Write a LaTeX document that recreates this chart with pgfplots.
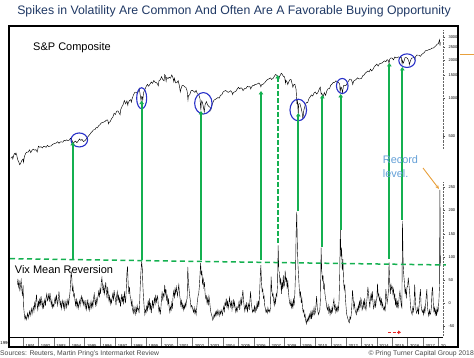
\documentclass[border=0pt]{standalone}
\usepackage{pgfplots}
\pgfplotsset{compat=1.18}
\usepackage{fontspec}
\setmainfont{Liberation Sans}
\usetikzlibrary{arrows.meta}
\definecolor{titleblue}{RGB}{31,56,100}
\definecolor{arrgreen}{RGB}{20,176,80}
\definecolor{circblue}{RGB}{40,48,200}
\definecolor{reclabel}{RGB}{100,160,215}
\definecolor{orangearr}{RGB}{232,160,60}
\definecolor{redarr}{RGB}{230,40,40}
\definecolor{srcgray}{RGB}{70,70,70}
\begin{document}
\begin{tikzpicture}
\useasboundingbox (0pt,0pt) rectangle (474pt,357pt);
% ---------------- upper panel: S&P Composite (log scale)
\begin{axis}[at={(10pt,191.9pt)}, anchor=south west, scale only axis,
  width=433pt, height=137.1pt,
  xmin=1990.15, xmax=2018.3, ymode=log, ymin=296, ymax=3556,
  axis x line=none, axis y line*=right, y axis line style={draw=none},
  ytick={500,1000,1500,2000,2500,3000},
  yticklabels={500,1000,1500,2000,2500,3000},
  yminorticks=false,
  tick align=outside, major tick length=2pt,
  ytick style={black!70, line width=0.3pt},
  yticklabel style={font=\fontsize{4}{4.5}\selectfont, anchor=west, xshift=0pt},
  clip=false]
\addplot[black, line width=0.45pt] coordinates {
(1990.20,335) (1990.25,339) (1990.30,345) (1990.333,331) (1990.40,355) (1990.417,361) (1990.46,366) (1990.5,358) (1990.54,368) (1990.583,356) (1990.63,335) (1990.667,323) (1990.71,315) (1990.75,306) (1990.78,298) (1990.833,304) (1990.87,312) (1990.917,322) (1990.96,326) (1991.0,330)
(1991.03,312) (1991.083,344) (1991.167,367) (1991.25,375) (1991.333,375) (1991.417,390) (1991.5,371) (1991.583,388) (1991.667,395) (1991.75,388) (1991.833,392) (1991.917,375) (1992.0,417)
(1992.083,409) (1992.167,413) (1992.25,404) (1992.333,415) (1992.417,415) (1992.5,408) (1992.583,424) (1992.667,414) (1992.75,418) (1992.833,419) (1992.917,431) (1993.0,436)
(1993.083,439) (1993.167,443) (1993.25,452) (1993.333,440) (1993.417,450) (1993.5,451) (1993.583,448) (1993.667,464) (1993.75,459) (1993.833,468) (1993.917,462) (1994.0,466)
(1994.083,482) (1994.167,467) (1994.25,446) (1994.29,438) (1994.333,451) (1994.417,457) (1994.5,444) (1994.583,458) (1994.667,475) (1994.75,463) (1994.833,472) (1994.917,454) (1995.0,459)
(1995.083,470) (1995.167,487) (1995.25,501) (1995.333,515) (1995.417,533) (1995.5,545) (1995.583,562) (1995.667,562) (1995.75,584) (1995.833,582) (1995.917,605) (1996.0,616)
(1996.083,636) (1996.167,640) (1996.25,646) (1996.333,654) (1996.417,669) (1996.5,671) (1996.56,626) (1996.583,640) (1996.667,652) (1996.75,687) (1996.833,705) (1996.917,757) (1997.0,741)
(1997.083,786) (1997.167,791) (1997.25,757) (1997.31,737) (1997.333,801) (1997.417,848) (1997.5,885) (1997.583,954) (1997.667,899) (1997.75,947) (1997.81,876) (1997.833,915) (1997.917,955) (1998.0,970)
(1998.04,927) (1998.083,980) (1998.167,1049) (1998.25,1102) (1998.333,1112) (1998.417,1091) (1998.5,1134) (1998.55,1187) (1998.583,1121) (1998.667,957) (1998.71,1025) (1998.75,1017) (1998.78,960) (1998.833,1099) (1998.917,1164) (1999.0,1229)
(1999.083,1280) (1999.167,1238) (1999.25,1286) (1999.333,1335) (1999.417,1302) (1999.5,1373) (1999.583,1329) (1999.667,1320) (1999.75,1283) (1999.79,1247) (1999.833,1363) (1999.917,1389) (2000.0,1469)
(2000.083,1394) (2000.167,1366) (2000.2,1527) (2000.25,1499) (2000.3,1356) (2000.333,1452) (2000.417,1421) (2000.5,1455) (2000.583,1431) (2000.667,1518) (2000.75,1437) (2000.8,1342) (2000.833,1429) (2000.917,1315) (2001.0,1320)
(2001.083,1366) (2001.167,1240) (2001.22,1117) (2001.25,1160) (2001.333,1249) (2001.417,1256) (2001.5,1224) (2001.583,1211) (2001.667,1134) (2001.72,966) (2001.75,1041) (2001.833,1060) (2001.917,1139) (2002.0,1148)
(2002.083,1130) (2002.167,1107) (2002.25,1147) (2002.333,1076) (2002.417,1067) (2002.5,990) (2002.56,797) (2002.583,912) (2002.62,950) (2002.667,916) (2002.75,815) (2002.78,777) (2002.833,886) (2002.917,936) (2003.0,880)
(2003.083,856) (2003.167,841) (2003.2,800) (2003.25,848) (2003.333,917) (2003.417,964) (2003.5,975) (2003.583,990) (2003.667,1008) (2003.75,996) (2003.833,1051) (2003.917,1058) (2004.0,1112)
(2004.083,1131) (2004.167,1145) (2004.25,1126) (2004.333,1107) (2004.417,1121) (2004.5,1141) (2004.583,1102) (2004.62,1064) (2004.667,1104) (2004.75,1115) (2004.833,1130) (2004.917,1174) (2005.0,1212)
(2005.083,1181) (2005.167,1204) (2005.25,1181) (2005.3,1142) (2005.333,1157) (2005.417,1192) (2005.5,1191) (2005.583,1234) (2005.667,1220) (2005.75,1229) (2005.8,1177) (2005.833,1207) (2005.917,1249) (2006.0,1248)
(2006.083,1280) (2006.167,1281) (2006.25,1295) (2006.333,1311) (2006.417,1270) (2006.46,1224) (2006.5,1270) (2006.583,1277) (2006.667,1304) (2006.75,1336) (2006.833,1378) (2006.917,1401) (2007.0,1418)
(2007.083,1438) (2007.16,1399) (2007.167,1407) (2007.25,1421) (2007.333,1482) (2007.417,1531) (2007.5,1503) (2007.583,1455) (2007.62,1406) (2007.667,1474) (2007.75,1527) (2007.78,1565) (2007.833,1549) (2007.917,1481) (2008.0,1468)
(2008.06,1310) (2008.083,1378) (2008.167,1331) (2008.21,1276) (2008.25,1323) (2008.333,1386) (2008.417,1400) (2008.5,1280) (2008.54,1214) (2008.583,1267) (2008.667,1283) (2008.75,1165) (2008.78,1000) (2008.8,899) (2008.833,969) (2008.89,752) (2008.917,896) (2009.0,903)
(2009.083,826) (2009.167,735) (2009.19,677) (2009.25,798) (2009.333,873) (2009.417,919) (2009.5,919) (2009.583,987) (2009.667,1021) (2009.75,1057) (2009.833,1036) (2009.917,1096) (2010.0,1115)
(2010.083,1074) (2010.167,1104) (2010.25,1169) (2010.32,1217) (2010.333,1187) (2010.38,1072) (2010.417,1089) (2010.5,1031) (2010.51,1022) (2010.583,1102) (2010.667,1049) (2010.75,1141) (2010.833,1183) (2010.917,1181) (2011.0,1258)
(2011.083,1286) (2011.167,1327) (2011.25,1326) (2011.333,1364) (2011.417,1345) (2011.5,1321) (2011.583,1292) (2011.61,1120) (2011.667,1219) (2011.7,1204) (2011.75,1131) (2011.76,1099) (2011.833,1253) (2011.917,1247) (2012.0,1258)
(2012.083,1312) (2012.167,1366) (2012.25,1408) (2012.333,1398) (2012.417,1310) (2012.43,1278) (2012.5,1362) (2012.583,1379) (2012.667,1407) (2012.75,1441) (2012.833,1412) (2012.917,1416) (2013.0,1426)
(2013.083,1498) (2013.167,1515) (2013.25,1569) (2013.333,1598) (2013.417,1631) (2013.5,1606) (2013.583,1686) (2013.667,1633) (2013.75,1682) (2013.833,1757) (2013.917,1806) (2014.0,1848)
(2014.083,1783) (2014.167,1859) (2014.25,1872) (2014.333,1884) (2014.417,1924) (2014.5,1960) (2014.583,1931) (2014.667,2003) (2014.75,1972) (2014.79,1862) (2014.833,2018) (2014.917,2068) (2015.0,2059)
(2015.083,1995) (2015.167,2105) (2015.25,2068) (2015.333,2086) (2015.417,2107) (2015.5,2063) (2015.583,2104) (2015.64,1867) (2015.667,1972) (2015.72,1882) (2015.75,1920) (2015.833,2079) (2015.917,2080) (2016.0,2044)
(2016.083,1940) (2016.11,1829) (2016.167,1932) (2016.25,2060) (2016.333,2065) (2016.417,2097) (2016.48,2001) (2016.5,2099) (2016.583,2174) (2016.667,2171) (2016.75,2168) (2016.833,2126) (2016.917,2199) (2017.0,2239)
(2017.083,2279) (2017.167,2364) (2017.25,2363) (2017.333,2384) (2017.417,2412) (2017.5,2423) (2017.583,2470) (2017.667,2472) (2017.75,2519) (2017.833,2575) (2017.917,2648) (2018.0,2674)
(2018.04,2786) (2018.07,2873) (2018.09,2762) (2018.105,2581) (2018.12,2700) (2018.13,2732)
};
\draw[black!60, densely dotted, line width=0.4pt] (axis cs:2018.3,400) -- (axis cs:2018.3,3400);
% highlight ellipses
\draw[circblue, line width=1.1pt] (axis cs:1994.655,467) ellipse [x radius=8.3pt, y radius=7pt];
\draw[circblue, line width=1.1pt] (axis cs:1998.71,995) ellipse [x radius=5pt, y radius=10.5pt];
\draw[circblue, line width=1.1pt] (axis cs:2002.72,908) ellipse [x radius=8.7pt, y radius=10.7pt];
\draw[circblue, line width=1.1pt] (axis cs:2008.89,804) ellipse [x radius=8.3pt, y radius=10.8pt];
\draw[circblue, line width=1.1pt] (axis cs:2011.75,1243) ellipse [x radius=5.8pt, y radius=7.5pt];
\draw[circblue, line width=1.1pt] (axis cs:2015.96,1967) ellipse [x radius=8.2pt, y radius=6.8pt];
% arrow tips
\coordinate (u1) at (axis cs:1994.226,451);
\coordinate (u2) at (axis cs:1998.71,952);
\coordinate (u3) at (axis cs:2002.567,790);
\coordinate (u4) at (axis cs:2006.468,1135);
\coordinate (u5) at (axis cs:2007.553,1517);
\coordinate (u6) at (axis cs:2008.893,762);
\coordinate (u7) at (axis cs:2010.453,1056);
\coordinate (u8) at (axis cs:2011.649,1075);
\coordinate (u9) at (axis cs:2014.809,1887);
\coordinate (u10) at (axis cs:2015.654,1754);
\end{axis}
% ---------------- lower panel: Vix Mean Reversion
\begin{axis}[at={(10pt,19.3pt)}, anchor=south west, scale only axis,
  width=433pt, height=167.7pt,
  xmin=1990.15, xmax=2018.3, ymin=-75.1, ymax=287.9,
  axis x line*=bottom, axis y line*=right,
  x axis line style={-, black, line width=0.6pt},
  y axis line style={draw=none},
  xtick={1991,1992,1993,1994,1995,1996,1997,1998,1999,2000,2001,2002,2003,2004,2005,2006,2007,2008,2009,2010,2011,2012,2013,2014,2015,2016,2017,2018},
  xticklabels={1991,1992,1993,1994,1995,1996,1997,1998,1999,2000,2001,2002,2003,2004,2005,2006,2007,2008,2009,2010,2011,2012,2013,2014,2015,2016,2017,20},
  xtick style={draw=none},
  xticklabel style={font=\fontsize{4.2}{4.5}\selectfont, anchor=north west, xshift=-1pt, yshift=-1pt},
  ytick={-50,0,50,100,150,200,250},
  yticklabels={-50,0,50,100,150,200,250},
  tick align=outside, major tick length=2pt,
  ytick style={black!70, line width=0.3pt},
  yticklabel style={font=\fontsize{4}{4.5}\selectfont, anchor=west, xshift=0pt},
  clip=false]
\addplot[black, line width=0.4pt] table[row sep=\\, x expr=1990.625+\coordindex/24, y=v] {
v\\
40\\52\\35\\45\\25\\40\\50\\30\\15\\
38\\-10\\-25\\-35\\-28\\-36\\-30\\-22\\-33\\-25\\-18\\-28\\-20\\-12\\-24\\-15\\-8\\-18\\0\\-10\\5\\18\\-5\\-15\\
5\\-8\\10\\-5\\15\\2\\-10\\5\\-12\\0\\8\\-6\\12\\20\\5\\10\\18\\3\\22\\8\\-5\\6\\-10\\-3\\
-8\\4\\12\\-2\\18\\6\\-5\\10\\25\\8\\-6\\3\\-12\\0\\6\\-9\\2\\-14\\-4\\5\\-10\\0\\8\\-5\\
10\\20\\40\\70\\55\\25\\35\\15\\20\\5\\-5\\10\\-8\\2\\-12\\-3\\5\\-6\\8\\15\\2\\10\\-4\\5\\
0\\-10\\6\\-14\\-4\\8\\-12\\-2\\-16\\-6\\4\\-10\\2\\-8\\10\\20\\5\\-5\\12\\-3\\8\\15\\25\\12\\
30\\20\\45\\55\\35\\25\\40\\20\\30\\45\\25\\10\\35\\18\\5\\15\\-2\\8\\0\\12\\20\\5\\28\\15\\
10\\-5\\15\\25\\5\\18\\0\\12\\-8\\5\\20\\2\\15\\-3\\25\\10\\0\\30\\65\\79\\40\\20\\35\\15\\
10\\-5\\5\\-15\\-22\\-8\\-18\\-25\\-10\\-20\\-5\\-15\\-12\\-22\\5\\45\\70\\90\\75\\35\\10\\-10\\-25\\-15\\
-20\\-5\\-18\\5\\-10\\10\\-15\\0\\-22\\-8\\6\\-12\\0\\12\\-5\\18\\2\\10\\15\\-5\\-18\\-10\\-25\\-12\\
10\\25\\5\\20\\15\\39\\20\\30\\5\\15\\-5\\10\\-10\\-20\\-8\\-15\\0\\-12\\15\\25\\10\\30\\20\\35\\
25\\15\\30\\40\\20\\10\\-5\\5\\-10\\-2\\-15\\-5\\-12\\0\\-8\\5\\10\\78\\45\\30\\15\\5\\-10\\-5\\
-8\\-15\\-20\\-10\\-22\\-15\\-25\\-10\\5\\15\\20\\35\\60\\87\\60\\70\\40\\55\\35\\45\\20\\10\\15\\0\\
10\\-5\\15\\5\\-10\\-20\\-25\\-30\\-37\\-33\\-25\\-30\\-20\\-28\\-18\\-25\\-15\\-22\\-28\\-18\\-24\\-15\\-20\\-26\\
-15\\-8\\-20\\0\\-5\\10\\-10\\5\\-12\\-3\\12\\0\\-8\\5\\-15\\-5\\8\\-10\\2\\-12\\-20\\-10\\-18\\-8\\
-10\\5\\-15\\0\\10\\-5\\15\\28\\5\\-8\\-18\\-5\\-12\\2\\-20\\-8\\-2\\-15\\8\\25\\0\\-10\\-20\\-15\\
-18\\-5\\-22\\-10\\-15\\0\\-12\\5\\-8\\20\\55\\82\\45\\25\\30\\10\\15\\-5\\-12\\-20\\-15\\-22\\-10\\-18\\
-15\\-20\\-10\\57\\30\\15\\20\\5\\-5\\10\\0\\20\\15\\40\\125\\70\\65\\40\\55\\20\\45\\30\\60\\35\\
40\\70\\45\\55\\30\\50\\25\\10\\0\\-5\\5\\-10\\0\\-12\\10\\-5\\20\\60\\150\\197\\120\\80\\55\\30\\
15\\25\\0\\10\\-10\\-20\\-15\\-30\\-25\\-38\\-45\\-35\\-40\\-30\\-38\\-25\\-32\\-20\\-35\\-15\\-28\\-22\\-10\\-25\\
-20\\-5\\15\\-10\\-18\\-25\\-20\\-15\\10\\120\\70\\50\\60\\30\\40\\20\\10\\0\\-10\\-15\\-5\\-20\\-10\\-25\\
-15\\-22\\-10\\-18\\0\\8\\-12\\-5\\-20\\-10\\-18\\-8\\-15\\5\\60\\158\\100\\120\\70\\95\\50\\30\\40\\10\\
-10\\-25\\-30\\-35\\-40\\-43\\-30\\-35\\-25\\-5\\28\\10\\-10\\0\\-15\\-20\\-25\\-12\\-18\\-5\\-15\\5\\-10\\10\\
5\\-15\\-10\\5\\-12\\10\\-8\\-15\\0\\15\\35\\20\\5\\-10\\10\\20\\5\\25\\0\\-12\\-5\\8\\-10\\5\\
10\\42\\15\\20\\5\\12\\-5\\10\\-8\\0\\-12\\-15\\-8\\-18\\30\\15\\0\\10\\25\\88\\45\\20\\40\\30\\
35\\20\\30\\10\\20\\-5\\10\\-10\\5\\-12\\0\\15\\25\\10\\-5\\-10\\178\\85\\60\\45\\20\\30\\10\\35\\
35\\55\\40\\25\\5\\-15\\-20\\-25\\-10\\-18\\-5\\40\\10\\-15\\-22\\-18\\-10\\-25\\-5\\15\\30\\-5\\-15\\-20\\
-15\\-25\\-10\\-20\\-5\\15\\30\\-10\\-20\\-28\\-15\\-25\\-22\\-10\\25\\35\\0\\-18\\-10\\-25\\-15\\-28\\-10\\-20\\
-12\\
};
\addplot[black, line width=0.4pt] coordinates {(2018.0,-12) (2018.04,10) (2018.075,40) (2018.095,245) (2018.11,200) (2018.125,95) (2018.14,80)};
\draw[black!60, densely dotted, line width=0.4pt] (axis cs:2018.3,-70) -- (axis cs:2018.3,262);
\pgfplotsinvokeforeach{1991,...,2018}{
  \draw[black!55, line width=0.3pt] (axis cs:#1,-75.1) -- (axis cs:#1,-93.5);
}
\draw[arrgreen, line width=1.5pt, dash pattern=on 5pt off 3.5pt] (axis cs:1990.15,96) -- (axis cs:2018.49,82.3);
\coordinate (l1) at (axis cs:1994.226,95.2);
\coordinate (l2) at (axis cs:1998.71,93);
\coordinate (l3) at (axis cs:2002.567,93);
\coordinate (l4) at (axis cs:2006.468,94);
\coordinate (l5) at (axis cs:2007.553,130);
\coordinate (l6) at (axis cs:2008.893,199);
\coordinate (l7) at (axis cs:2010.453,121);
\coordinate (l8) at (axis cs:2011.649,158);
\coordinate (l9) at (axis cs:2014.809,95);
\coordinate (l10) at (axis cs:2015.654,180);
\end{axis}
% green arrows
\tikzset{garrow/.style={draw=arrgreen, line width=1.7pt, -{Triangle[width=4.5pt,length=3.5pt,fill=arrgreen]}}}
\draw[garrow] (l1) -- (u1);
\draw[garrow] (l2) -- (u2);
\draw[garrow] (l3) -- (u3);
\draw[garrow] (l4) -- (u4);
\draw[garrow, dash pattern=on 4.5pt off 2.5pt] (l5) -- (u5);
\draw[garrow] (l6) -- (u6);
\draw[garrow] (l7) -- (u7);
\draw[garrow] (l8) -- (u8);
\draw[garrow] (l9) -- (u9);
\draw[garrow] (l10) -- (u10);
% frame
\draw[black, line width=1.8pt] (9.3pt,331pt) rectangle (457.6pt,10.4pt);
% texts
\node[anchor=base, text=titleblue, font=\fontsize{12.3}{14}\selectfont, inner sep=0pt] at (234pt,342.7pt)
  {Spikes in Volatility Are Common And Often Are A Favorable Buying Opportunity};
\node[anchor=base west, font=\fontsize{11}{13}\selectfont, inner sep=0pt] at (33pt,306.3pt) {S\&P Composite};
\node[anchor=base west, font=\fontsize{11}{13}\selectfont, inner sep=0pt] at (14.7pt,83.7pt) {Vix Mean Reversion};
\node[anchor=base west, text=reclabel, font=\fontsize{10.9}{13}\selectfont, inner sep=0pt] at (382.7pt,193.7pt) {Record};
\node[anchor=base west, text=reclabel, font=\fontsize{10.9}{13}\selectfont, inner sep=0pt] at (382.7pt,179.7pt) {level.};
\node[anchor=base west, font=\fontsize{4.2}{4.5}\selectfont, inner sep=0pt] at (0.3pt,12.8pt) {1990};
\node[anchor=base west, text=srcgray, font=\fontsize{6.8}{7.5}\selectfont, inner sep=0pt] at (0pt,2pt) {Sources: Reuters, Martin Pring's Intermarket Review};
\node[anchor=base east, text=srcgray, font=\fontsize{6.8}{7.5}\selectfont, inner sep=0pt] at (474pt,2pt) {© Pring Turner Capital Group 2018};
% orange and red annotations
\draw[orangearr, line width=0.9pt, -{Stealth[length=4pt,width=3.5pt]}] (423pt,189pt) -- (439pt,168pt);
\draw[orangearr, line width=0.9pt] (459.5pt,303pt) -- (474pt,303pt);
\draw[redarr, line width=1pt, dash pattern=on 3pt off 1.5pt, -{Triangle[length=3pt,width=3.5pt]}] (388pt,24.7pt) -- (401pt,24.7pt);
\end{tikzpicture}
\end{document}
